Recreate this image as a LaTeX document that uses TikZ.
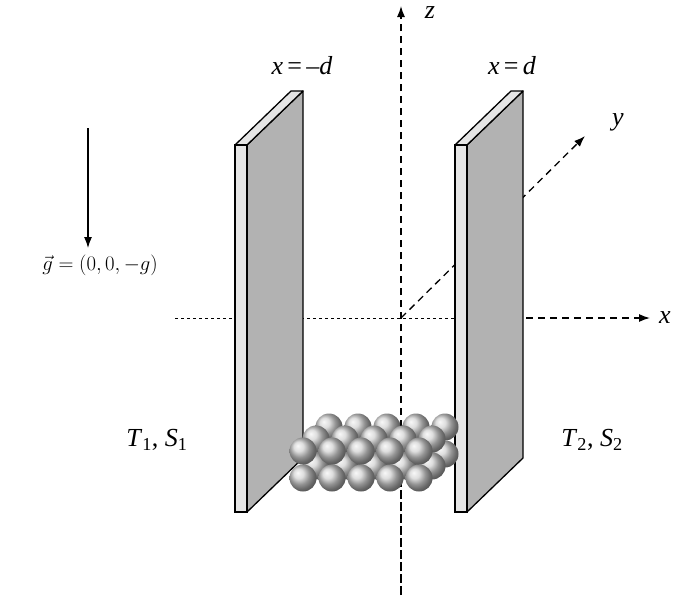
\documentclass[tikz,border=0pt]{standalone}
\usepackage{fontspec}
\setmainfont{Liberation Serif}
\usetikzlibrary{arrows.meta}
\begin{document}
\begin{tikzpicture}[x=1pt,y=-1pt,
  ax/.style={dashed,dash pattern=on 7pt off 5pt,line width=1.3pt,-{Latex[length=11pt,width=8pt]}},
  lbl/.style={font=\fontsize{26}{28}\selectfont\itshape},
  ball/.style={ball color=gray!35,draw=none}]
\useasboundingbox (0,0) rectangle (685,597);
% axes lines behind
\draw[dashed,line width=0.6pt] (175,318) -- (490,318);
\coordinate (O) at (401,318);
\coordinate (Z0) at (401,595);
\coordinate (ZE) at (401,6);
\coordinate (X0) at (490,318);
\coordinate (XE) at (650,318);
\coordinate (YE) at (585,136);
\draw[ax] (Z0) -- (ZE);
\draw[ax] (X0) -- (XE);
\draw[ax] (O) -- (YE);
% plates
\foreach \px in {235,455}{
  \fill[gray!60,draw=black,line width=1.3pt,line join=round] (\px+12,145) -- (\px+68,91) -- (\px+68,458) -- (\px+12,512) -- cycle;
  \fill[gray!20,draw=black,line width=1.3pt,line join=round] (\px,145) -- (\px+56,91) -- (\px+68,91) -- (\px+12,145) -- cycle;
  \fill[gray!20,draw=black,line width=1.3pt] (\px,145) rectangle (\px+12,512);
}
% spheres
\foreach \l in {2,1,0}{
  \foreach \r in {1,0}{
    \foreach \c in {0,...,4}{
      \shade[ball] (303+\c*29+\l*13, 451+\r*27-\l*12) circle (13.5);
    }
  }
}
% z axis in front of spheres
\draw[dashed,dash pattern=on 7pt off 5pt,line width=1.3pt] (401,490) -- (Z0);
% gravity
\draw[line width=1.2pt,-{Latex[length=11pt,width=8pt]}] (88,128) -- (88,248);
\node[font=\fontsize{22}{24}\selectfont] (g) at (100,265) {$\vec g = (0,0,-g)$};
\node[lbl] (lz) at (430,13) {z};
\node[lbl] (ly) at (618,122) {y};
\node[lbl] (lx) at (665,318) {x};
\node[font=\fontsize{26}{28}\selectfont] (l1) at (302,66) {\textit{x}\,=\,–\textit{d}};
\node[font=\fontsize{26}{28}\selectfont] (l2) at (512,66) {\textit{x}\,=\,\textit{d}};
\node[font=\fontsize{26}{28}\selectfont] (t1) at (157,440) {\textit{T}\textsubscript{1}, \textit{S}\textsubscript{1}};
\node[font=\fontsize{26}{28}\selectfont] (t2) at (592,440) {\textit{T}\textsubscript{2}, \textit{S}\textsubscript{2}};
\end{tikzpicture}
\end{document}
